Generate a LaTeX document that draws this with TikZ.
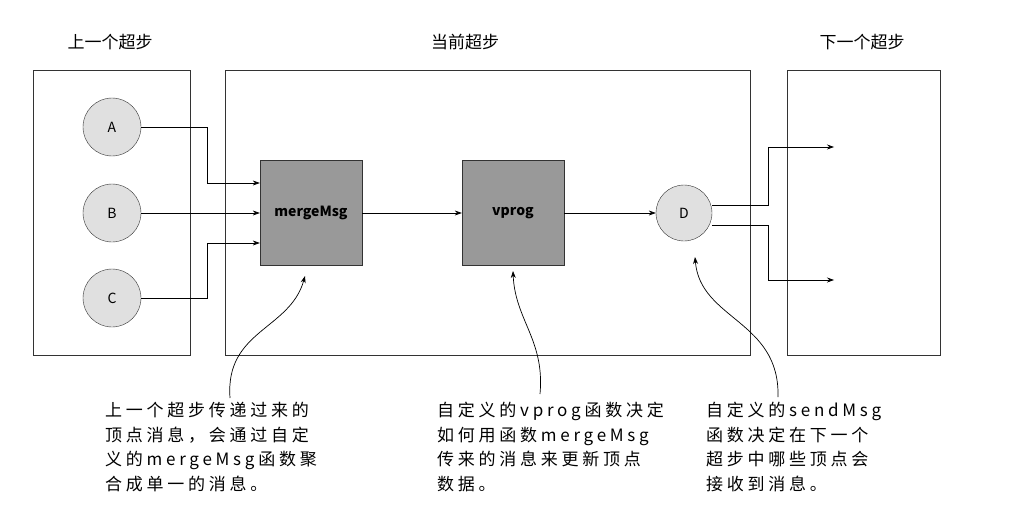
\documentclass[tikz,border=0pt]{standalone}
\usepackage{fontspec}
\setmainfont{Noto Sans CJK SC}
\newfontfamily\notefont[LetterSpace=22]{Noto Sans CJK SC}
\usetikzlibrary{arrows.meta}
\begin{document}
\begin{tikzpicture}[x=1pt,y=-1pt,
  frame/.style={draw=black!80,line width=0.8pt},
  vert/.style={circle,draw=black!80,fill=black!12,minimum size=58pt,inner sep=0pt,font=\fontsize{14}{16}\selectfont},
  fn/.style={draw=black!80,fill=black!40,minimum width=102pt,minimum height=105pt,inner sep=0pt,font=\fontsize{14}{16}\selectfont\bfseries},
  ar/.style={-{Stealth[length=7pt,width=5pt]},line width=0.7pt},
  ttl/.style={font=\fontsize{17}{18}\selectfont},
  note/.style={align=left,anchor=north west,inner sep=0pt,font=\notefont\fontsize{17}{24.5}\selectfont}]
\useasboundingbox (0,0) rectangle (1019,516);
\draw[frame] (33,70) rectangle (190,355);
\draw[frame] (225,70) rectangle (750,355);
\draw[frame] (787,70) rectangle (940,355);
\node[ttl] (t1) at (110,42) {上一个超步};
\node[ttl] (t2) at (465,42) {当前超步};
\node[ttl] (t3) at (862,42) {下一个超步};
\node[vert] (A) at (112,127) {A};
\node[vert] (B) at (112,213) {B};
\node[vert] (C) at (112,298) {C};
\node[fn] (M) at (311,213) {mergeMsg};
\node[fn] (V) at (513,213) {vprog};
\node[vert,minimum size=56pt] (D) at (684,213) {D};
\coordinate (o1) at (834,147);
\coordinate (o2) at (834,280);
\draw[ar] (A.east) -| (207,183) -- (M.west |- 0,183);
\draw[ar] (B) -- (M);
\draw[ar] (C.east) -| (207,243) -- (M.west |- 0,243);
\draw[ar] (M) -- (V);
\draw[ar] (V) -- (D);
\draw[ar] (D.east |- 0,205) -- (768,205) |- (o1);
\draw[ar] (D.east |- 0,225) -- (768,225) |- (o2);
\node[note] (n1) at (105,402) {上一个超步传递过来的\\顶点消息，会通过自定\\义的mergeMsg函数聚\\合成单一的消息。};
\node[note] (n2) at (437,402) {自定义的vprog函数决定\\如何用函数mergeMsg\\传来的消息来更新顶点\\数据。};
\node[note] (n3) at (706,402) {自定义的sendMsg\\函数决定在下一个\\超步中哪些顶点会\\接收到消息。};
\draw[ar] (230,398) .. controls (225,330) and (290,330) .. (305,276);
\draw[ar] (540,394) .. controls (545,340) and (515,320) .. (513,271);
\draw[ar] (778,397) .. controls (780,320) and (700,320) .. (695,257);
\end{tikzpicture}
\end{document}
